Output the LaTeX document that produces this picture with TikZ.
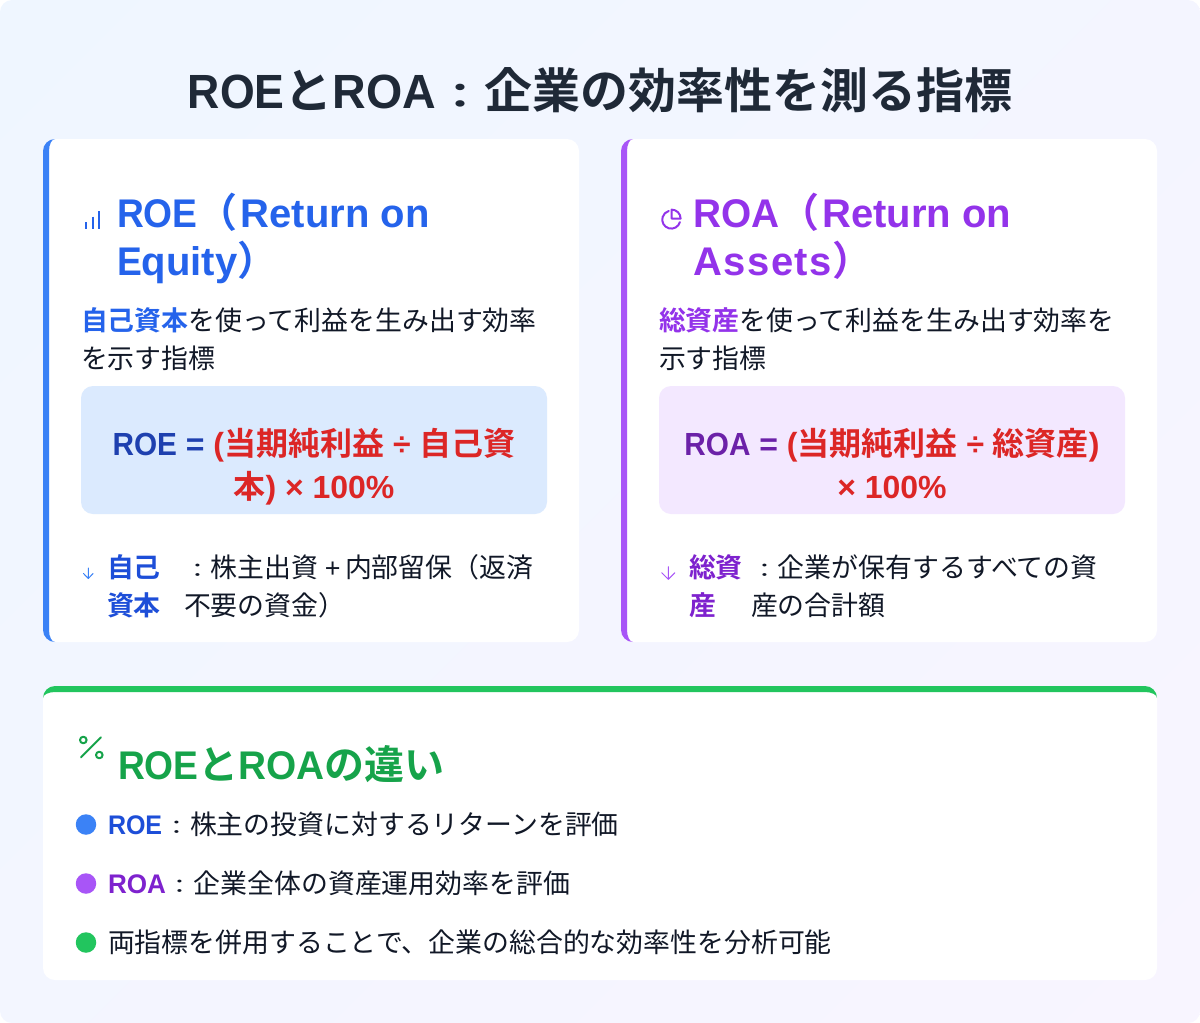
\documentclass[tikz,border=0pt]{standalone}
\usepackage{fontspec}
\setmainfont{Liberation Sans}
\newfontfamily\jpfont{Noto Sans CJK JP}[BoldFont={Noto Sans CJK JP Bold}]
\newfontfamily\acrofont{Liberation Sans}[FakeStretch=0.93]
\newfontfamily\acrawide{Liberation Sans}[FakeStretch=0.97]
\newfontfamily\widefont{Liberation Sans}[LetterSpace=4]
\newcommand{\jp}[1]{{\jpfont #1}}
\newcommand{\acro}[1]{{\acrofont #1}}
\newcommand{\acrw}[1]{{\acrawide #1}}
\newcommand{\colmark}{\scalebox{1}[0.72]{\jp{：}}}
\newcommand{\fs}[1]{\fontsize{#1}{#1}\selectfont}
\definecolor{bgstart}{HTML}{EFF6FF}
\definecolor{bgend}{HTML}{F8F5FF}
\definecolor{inkdark}{HTML}{1F2937}
\definecolor{inkbody}{HTML}{111827}
\definecolor{roeblue}{HTML}{2563EB}
\definecolor{roebar}{HTML}{3B82F6}
\definecolor{roedeep}{HTML}{1D4ED8}
\definecolor{roebox}{HTML}{DBEAFE}
\definecolor{roeform}{HTML}{1E40AF}
\definecolor{roapurple}{HTML}{9333EA}
\definecolor{roabar}{HTML}{A855F7}
\definecolor{roadeep}{HTML}{7E22CE}
\definecolor{roabox}{HTML}{F3E8FF}
\definecolor{roaform}{HTML}{6B21A8}
\definecolor{diffgreen}{HTML}{16A34A}
\definecolor{diffbar}{HTML}{22C55E}
\definecolor{formred}{HTML}{DC2626}
\pgfdeclareverticalshading{pagefade}{100bp}{color(0bp)=(bgend); color(15bp)=(bgend); color(85bp)=(bgstart); color(100bp)=(bgstart)}
\newcommand{\leftbar}[2]{\fill[#2,shift={(#1,0)}] (12,139) arc[start angle=-90,end angle=-180,radius=12] -- (0,630) arc[start angle=180,end angle=90,radius=12] arc[start angle=90,end angle=180,x radius=6,y radius=12] -- (6,151) arc[start angle=180,end angle=270,x radius=6,y radius=12] -- cycle;}
\tikzset{
  txt/.style={anchor=base west,inner sep=0pt,outer sep=0pt,text=inkbody,font=\fs{26.88}},
  head/.style={txt,font=\fs{40}\bfseries},
  term/.style={txt,font=\fs{26.88}\bfseries},
  form/.style={anchor=base,inner sep=0pt,outer sep=0pt,font=\fs{32}\bfseries},
  bullet/.style={circle,inner sep=0pt,minimum size=20.5pt},
  glyph/.style={line width=2pt,line cap=round,line join=round},
}
\begin{document}
\begin{tikzpicture}[x=1pt,y=-1pt]
\useasboundingbox (0,0) rectangle (1200,1023);
\shade[shading=pagefade,shading angle=45,rounded corners=12pt] (0,0) rectangle (1200,1023);
\node[anchor=base,inner sep=0pt,text=inkdark,font=\fs{48}\bfseries] (title) at (600,108) {\acro{ROE}\jp{と}\acrw{ROA}\colmark\jp{企業の効率性を測る指標}};
% cards
\fill[white,rounded corners=12pt] (43,139) rectangle (579,642);
\fill[white,rounded corners=12pt] (621,139) rectangle (1157,642);
\fill[white,rounded corners=12pt] (43,686) rectangle (1157,980);
\leftbar{43}{roebar}
\leftbar{621}{roabar}
\fill[diffbar] (43,698) arc[start angle=180,end angle=270,radius=12] -- (1145,686) arc[start angle=-90,end angle=0,radius=12] arc[start angle=0,end angle=-90,x radius=12,y radius=6] -- (55,692) arc[start angle=-90,end angle=-180,x radius=12,y radius=6] -- cycle;
\fill[roebox,rounded corners=12pt] (81,386) rectangle (547,514);
\fill[roabox,rounded corners=12pt] (659,386) rectangle (1125,514);
% ROE card
\draw[roeblue,glyph,line cap=butt] (86,222)--(86,228.5) (92.5,216.5)--(92.5,228.5) (99,211)--(99,228.5); %bars
\node[head,text=roeblue] (roehead) at (117,227.5) {\acro{ROE}\jp{（}\kern3pt Return on};
\node[head,text=roeblue] (roehead2) at (117,275.5) {\acro{E}quity\jp{）}};
\node[txt] (roebody) at (81,330) {\jpfont\textcolor{roeblue}{\bfseries 自己資本}を使って利益を生み出す効率};
\node[txt] (roebody2) at (81,368) {\jpfont を示す指標};
\node[form,text=roeform] (roeform1) at (314,455) {\acro{ROE} = \textcolor{formred}{(\jp{当期純利益} ÷ \jp{自己資}}};
\node[form,text=formred] (roeform2) at (314,498) {\jp{本}) × 100\%};
\draw[roebar,line width=1pt,line cap=round,line join=round] (88.3,568)--(88.3,578.5) (83.5,573.5)--(88.3,578.5)--(93.1,573.5); %down arrow
\node[term,text=roedeep] (roeterm) at (107,577) {\jp{自己}};
\node[term,text=roedeep] (roeterm2) at (107,615) {\jp{資本}};
\node[txt] (roenote) at (184,577) {\colmark\jp{株主出資}\kern-1pt{} + \kern-3pt\jp{内部留保（返済}};
\node[txt] (roenote2) at (184,615) {\jp{不要の資金）}};
% ROA card
\draw[roapurple,glyph] (679.9,222.1) arc[start angle=16,end angle=254,radius=9]; %pie
\draw[roapurple,glyph] (680.6,218.6) arc[start angle=0,end angle=-90,radius=9] -- (671.6,218.6) -- cycle;
\node[head,text=roapurple] (roahead) at (693,227.5) {\acrw{ROA}\jp{（}\kern3pt Return on};
\node[head,text=roapurple] (roahead2) at (693,275.5) {{\widefont Assets}\jp{）}};
\node[txt] (roabody) at (659,330) {\jpfont\textcolor{roapurple}{\bfseries 総資産}を使って利益を生み出す効率を};
\node[txt] (roabody2) at (659,368) {\jpfont 示す指標};
\node[form,text=roaform] (roaform1) at (892,455) {\acro{ROA} = \textcolor{formred}{(\jp{当期純利益} ÷ \jp{総資産})}};
\node[form,text=formred] (roaform2) at (892,498) {× 100\%};
\draw[roabar,line width=1pt,line cap=round,line join=round] (668.3,566.7)--(668.3,579.3) (661.8,572.8)--(668.3,579.3)--(674.8,572.8); %down arrow
\node[term,text=roadeep] (roaterm) at (689,577) {\jp{総資}};
\node[term,text=roadeep] (roaterm2) at (689,615) {\jp{産}};
\node[txt] (roanote) at (751,577) {\colmark\jp{企業が保有するすべての資}};
\node[txt] (roanote2) at (751,615) {\jp{産の合計額}};
% difference card
\draw[diffgreen,glyph] (101,737.3)--(81,757.3); %percent
\draw[diffgreen,glyph] (83.3,740) circle (3.3) (99.3,755) circle (3.3);
\node[head,text=diffgreen] (diffhead) at (118,779) {\acro{ROE}\jp{と}\acrw{ROA}\jp{の違い}};
\node[bullet,fill=roebar] (dotroe) at (86,824.5) {};
\node[bullet,fill=roabar] (dotroa) at (86,883.5) {};
\node[bullet,fill=diffbar] (dotboth) at (86,942.5) {};
\node[txt] (itemroe) at (108,834) {\textcolor{roedeep}{\bfseries\acro{ROE}}\kern1pt\colmark\jp{株主の投資に対するリターンを評価}};
\node[txt] (itemroa) at (108,893) {\textcolor{roadeep}{\bfseries\acrw{ROA}}\kern1pt\colmark\jp{企業全体の資産運用効率を評価}};
\node[txt] (itemboth) at (108,952) {\jp{両指標を併用することで、企業の総合的な効率性を分析可能}};
\end{tikzpicture}
\end{document}
